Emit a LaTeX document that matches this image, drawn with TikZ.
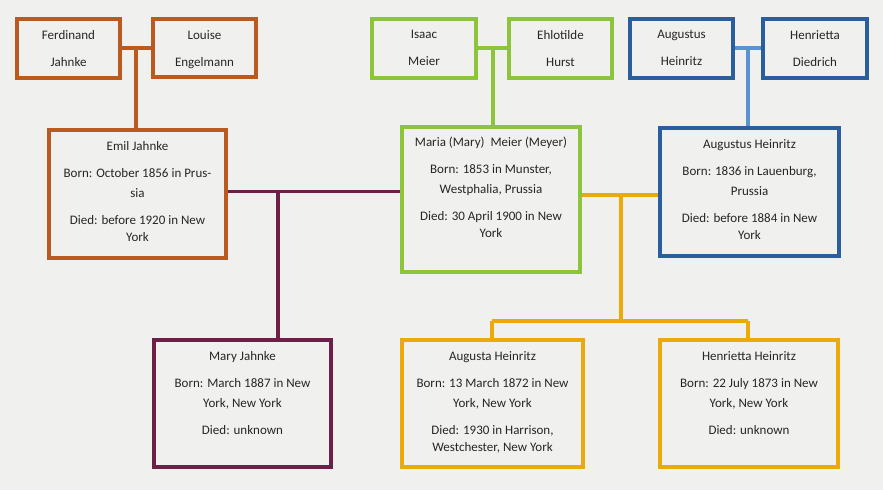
\documentclass[tikz,border=0pt]{standalone}
\usepackage{fontspec}
\setmainfont{Carlito}
\definecolor{bg}{HTML}{F0F0EE}
\definecolor{cbrown}{HTML}{BA5A1E}
\definecolor{cgreen}{HTML}{8CC43C}
\definecolor{cblue}{HTML}{2B5E9C}
\definecolor{clblue}{HTML}{5A92D2}
\definecolor{cpurple}{HTML}{6E1F48}
\definecolor{cyellow}{HTML}{EBAA0A}
\tikzset{
  box/.style={draw=#1, line width=4pt, inner sep=0pt},
  lbl/.style={anchor=north, inner sep=0pt, align=center, font=\fontsize{13}{17}\selectfont, text=black!85},
  conn/.style={draw=#1, line width=4pt},
}
\begin{document}
\begin{tikzpicture}[x=1pt,y=-1pt]
\fill[bg] (0,0) rectangle (883,490);
\useasboundingbox (0,0) rectangle (883,490);
% grandparents
\node[box=cbrown, minimum width=103pt, minimum height=59pt] (ferd) at (68.5,48.5) {};
\node[box=cbrown, minimum width=103pt, minimum height=58pt] (louise) at (204.5,48) {};
\node[box=cgreen, minimum width=104pt, minimum height=59pt] (isaac) at (424,48.5) {};
\node[box=cgreen, minimum width=103pt, minimum height=59pt] (ehlo) at (560.5,48.5) {};
\node[box=cblue, minimum width=103pt, minimum height=59pt] (augp) at (681.5,48.5) {};
\node[box=cblue, minimum width=104pt, minimum height=59pt] (henp) at (815,48.5) {};
% parents
\node[box=cbrown, minimum width=177pt, minimum height=128pt] (emil) at (137.5,194) {};
\node[box=cgreen, minimum width=178pt, minimum height=145pt] (maria) at (491,199.5) {};
\node[box=cblue, minimum width=179pt, minimum height=128pt] (augh) at (749.5,192) {};
% children
\node[box=cpurple, minimum width=177pt, minimum height=127pt] (mary) at (242.5,403.5) {};
\node[box=cyellow, minimum width=181pt, minimum height=127pt] (augusta) at (492.5,403.5) {};
\node[box=cyellow, minimum width=178pt, minimum height=127pt] (henh) at (749,403.5) {};
% labels
\node[lbl] (tferd) at ([yshift=-13pt]ferd.north) {Ferdinand\\[10pt]Jahnke};
\node[lbl] (tlouise) at ([yshift=-13pt]louise.north) {Louise\\[10pt]Engelmann};
\node[lbl] (tisaac) at ([yshift=-13pt]isaac.north) {Isaac\\[10pt]Meier};
\node[lbl] (tehlo) at ([yshift=-13pt]ehlo.north) {Ehlotilde\\[10pt]Hurst};
\node[lbl] (taugp) at ([yshift=-13pt]augp.north) {Augustus\\[10pt]Heinritz};
\node[lbl] (thenp) at ([yshift=-13pt]henp.north) {Henrietta\\[10pt]Diedrich};
\node[lbl] (temil) at ([yshift=-13pt]emil.north) {Emil Jahnke\\[10pt]Born: October 1856 in Prus-\\[3pt]sia\\[10pt]Died: before 1920 in New\\York};
\node[lbl] (tmaria) at ([yshift=-12pt]maria.north) {Maria (Mary)\ \ Meier (Meyer)\\[10pt]Born: 1853 in Munster,\\[3pt]Westphalia, Prussia\\[10pt]Died: 30 April 1900 in New\\York};
\node[lbl] (taugh) at ([yshift=-13pt]augh.north) {Augustus Heinritz\\[10pt]Born: 1836 in Lauenburg,\\[3pt]Prussia\\[10pt]Died: before 1884 in New\\York};
\node[lbl] (tmary) at ([yshift=-13pt]mary.north) {Mary Jahnke\\[10pt]Born: March 1887 in New\\[3pt]York, New York\\[10pt]Died: unknown};
\node[lbl] (taugusta) at ([yshift=-13pt]augusta.north) {Augusta Heinritz\\[10pt]Born: 13 March 1872 in New\\[3pt]York, New York\\[10pt]Died: 1930 in Harrison,\\Westchester, New York};
\node[lbl] (thenh) at ([yshift=-13pt]henh.north) {Henrietta Heinritz\\[10pt]Born: 22 July 1873 in New\\[3pt]York, New York\\[10pt]Died: unknown};
% connectors
\coordinate (fl) at (136,47.5);
\draw[conn=cbrown] (ferd.east |- fl) -- (louise.west |- fl);
\draw[conn=cbrown] (fl) -- (fl |- emil.north);
\coordinate (ie) at (492.5,48);
\draw[conn=cgreen] (isaac.east |- ie) -- (ehlo.west |- ie);
\draw[conn=cgreen] (ie) -- (ie |- maria.north);
\coordinate (ah) at (748,48);
\draw[conn=clblue] (augp.east |- ah) -- (henp.west |- ah);
\draw[conn=clblue] (ah) -- (ah |- augh.north);
\coordinate (pj) at (278,191.5);
\draw[conn=cpurple, line width=3.5pt] (emil.east |- pj) -- (maria.west |- pj);
\draw[conn=cpurple, line width=3.5pt] (pj) -- (pj |- mary.north);
\coordinate (ym) at (621,195);
\coordinate (yc) at (621,321);
\draw[conn=cyellow] (maria.east |- ym) -- (augh.west |- ym);
\draw[conn=cyellow] (ym) -- (yc);
\coordinate (ya) at (492,321);
\coordinate (yh) at (748,321);
\draw[conn=cyellow] (ya) -- (yh);
\draw[conn=cyellow] (ya) -- (ya |- augusta.north);
\draw[conn=cyellow] (yh) -- (yh |- henh.north);
\end{tikzpicture}
\end{document}
